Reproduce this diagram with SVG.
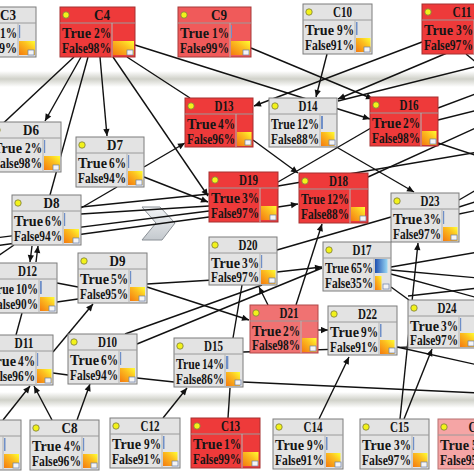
<svg xmlns="http://www.w3.org/2000/svg" width="474" height="474" viewBox="0 0 474 474">
<style>
.bx{stroke:#7c7c7c;stroke-width:1}
.gy{fill:#e3e3e3}
.rd{fill:#ee3a3a;stroke:#a63030}
.r2{fill:#f05a5a;stroke:#a63a3a}
.pk{fill:#f07272;stroke:#b04848}
.lp{fill:#f5a5a5;stroke:#b87070}
.hl{stroke:#9a9a9a;stroke-width:1}
.vl{stroke:#b4b4b4;stroke-width:1}
.dot{fill:#f2f21a;stroke:#7a7a40;stroke-width:0.8}
text{font-family:"Liberation Serif","Times New Roman",serif;font-weight:bold;font-size:14px;fill:#151515}
.tt{text-anchor:middle}
.tb{fill:#6f8fc8}
.fb{fill:url(#og)}
.ic{fill:#f4f4f4;stroke:#6a7fa8;stroke-width:0.7}
.c{stroke:#111;stroke-width:1.4;fill:none}
.a{marker-end:url(#ah)}
</style>
<defs>
<linearGradient id="og" x1="0" y1="1" x2="1" y2="0"><stop offset="0" stop-color="#f47a10"/><stop offset="0.6" stop-color="#fcc020"/><stop offset="1" stop-color="#ffff30"/></linearGradient>
<linearGradient id="bg" x1="0" y1="0" x2="1" y2="0"><stop offset="0" stop-color="#1e4fb0"/><stop offset="1" stop-color="#9ad8f5"/></linearGradient>
<linearGradient id="band" x1="0" y1="0" x2="0" y2="1"><stop offset="0" stop-color="#ffffff"/><stop offset="0.5" stop-color="#d0d1c9"/><stop offset="1" stop-color="#ffffff"/></linearGradient>
<linearGradient id="chev" x1="0" y1="0" x2="0" y2="1"><stop offset="0" stop-color="#f2f4f6"/><stop offset="1" stop-color="#c4c9ce"/></linearGradient>
<marker id="ah" viewBox="0 0 10 10" refX="10" refY="5" markerWidth="9" markerHeight="7" markerUnits="userSpaceOnUse" orient="auto"><path d="M0,0.5 L10,5 L0,9.5 z" fill="#111"/></marker>
</defs>
<rect width="474" height="474" fill="#ffffff"/>
<rect x="0" y="71" width="474" height="16" fill="url(#band)"/>
<rect x="0" y="392" width="474" height="16" fill="url(#band)"/>
<polygon points="142,207 160,207 175,223 162,240 142,240 156,223" fill="url(#chev)" stroke="#8a9096" stroke-width="1"/>
<g id="connectors">
<line class="c" x1="74" y1="57" x2="-4" y2="130"/>
<line class="c a" x1="81" y1="57" x2="45" y2="121"/>
<line class="c" x1="88" y1="57" x2="50" y2="195"/>
<line class="c a" x1="100" y1="57" x2="107" y2="136"/>
<line class="c a" x1="113" y1="57" x2="208" y2="196"/>
<line class="c" x1="127" y1="57" x2="190" y2="98"/>
<line class="c a" x1="135" y1="45" x2="370" y2="119"/>
<line class="c a" x1="251" y1="48" x2="373" y2="99"/>
<line class="c a" x1="327" y1="54" x2="316" y2="97"/>
<line class="c a" x1="422" y1="42" x2="254" y2="106"/>
<line class="c a" x1="447" y1="53" x2="338" y2="99"/>
<line class="c" x1="478" y1="66" x2="338" y2="101"/>
<line class="c" x1="466" y1="54" x2="478" y2="64"/>
<line class="c" x1="478" y1="93" x2="438" y2="108"/>
<line class="c" x1="117" y1="187" x2="81" y2="208"/>
<line class="c a" x1="144" y1="167" x2="185" y2="143"/>
<line class="c a" x1="144" y1="177" x2="208" y2="202"/>
<line class="c" x1="81" y1="207" x2="209" y2="194"/>
<line class="c" x1="81" y1="214" x2="209" y2="206"/>
<line class="c" x1="-5" y1="238" x2="209" y2="211"/>
<line class="c" x1="-5" y1="246" x2="209" y2="217"/>
<line class="c" x1="-5" y1="258" x2="14" y2="245"/>
<line class="c a" x1="36" y1="262" x2="38" y2="246"/>
<line class="c a" x1="32" y1="246" x2="30" y2="262"/>
<line class="c a" x1="253" y1="140" x2="298" y2="173"/>
<line class="c a" x1="333" y1="145" x2="414" y2="192"/>
<line class="c" x1="278" y1="182" x2="371" y2="128"/>
<line class="c" x1="278" y1="186" x2="478" y2="152"/>
<line class="c a" x1="278" y1="207" x2="298" y2="204"/>
<line class="c" x1="368" y1="177" x2="478" y2="127"/>
<line class="c" x1="438" y1="120" x2="478" y2="110"/>
<line class="c" x1="438" y1="143" x2="478" y2="156"/>
<line class="c" x1="391" y1="217" x2="277" y2="250"/>
<line class="c" x1="459" y1="200" x2="478" y2="189"/>
<line class="c" x1="459" y1="207" x2="478" y2="201"/>
<line class="c" x1="459" y1="214" x2="478" y2="210"/>
<line class="c a" x1="296" y1="305" x2="322" y2="224"/>
<line class="c a" x1="277" y1="272" x2="322" y2="267"/>
<line class="c" x1="391" y1="267" x2="478" y2="252"/>
<line class="c" x1="391" y1="270" x2="478" y2="278"/>
<line class="c" x1="391" y1="274" x2="478" y2="298"/>
<line class="c" x1="391" y1="287" x2="409" y2="300"/>
<line class="c" x1="408" y1="296" x2="478" y2="288"/>
<line class="c" x1="397" y1="347" x2="478" y2="365"/>
<line class="c" x1="243" y1="352" x2="478" y2="345"/>
<line class="c a" x1="318" y1="330" x2="328" y2="330"/>
<line class="c a" x1="268" y1="305" x2="259" y2="287"/>
<line class="c a" x1="147" y1="287" x2="249" y2="320"/>
<line class="c" x1="147" y1="284" x2="213" y2="280"/>
<line class="c" x1="57" y1="283" x2="78" y2="287"/>
<line class="c" x1="57" y1="302" x2="78" y2="299"/>
<line class="c" x1="137" y1="344" x2="322" y2="268"/>
<line class="c" x1="125" y1="334" x2="262" y2="285"/>
<line class="c a" x1="53" y1="352" x2="93" y2="304"/>
<line class="c" x1="53" y1="373" x2="68" y2="375"/>
<line class="c" x1="22" y1="313" x2="16" y2="335"/>
<line class="c" x1="137" y1="378" x2="174" y2="382"/>
<line class="c a" x1="3" y1="420" x2="30" y2="386"/>
<line class="c a" x1="52" y1="420" x2="34" y2="386"/>
<line class="c a" x1="77" y1="420" x2="90" y2="384"/>
<line class="c a" x1="163" y1="418" x2="187" y2="388"/>
<line class="c" x1="228" y1="418" x2="230" y2="388"/>
<line class="c" x1="243" y1="382" x2="478" y2="393"/>
<line class="c a" x1="319" y1="419" x2="349" y2="357"/>
<line class="c a" x1="400" y1="419" x2="418" y2="243"/>
<line class="c a" x1="404" y1="419" x2="432" y2="349"/>
<line class="c" x1="233" y1="338" x2="242" y2="285"/>
</g>

<g id="C3" transform="translate(-36,7)"><rect class="bx gy" width="72" height="50"/><line class="hl" x1="0" y1="16" x2="72" y2="16"/><line class="vl" x1="54" y1="16" x2="54" y2="50"/><text class="tt" x="44" y="13" textLength="16" lengthAdjust="spacingAndGlyphs">C3</text><text x="2" y="31" textLength="29" lengthAdjust="spacingAndGlyphs">True</text><text x="36" y="31" textLength="17" lengthAdjust="spacingAndGlyphs">1%</text><text x="2" y="46" textLength="51" lengthAdjust="spacingAndGlyphs">False99%</text><rect class="tb" x="55" y="18" width="1.2" height="13"/><rect class="fb" x="55" y="34" width="16" height="14"/><rect class="ic" x="64" y="43" width="6" height="5"/></g>

<g id="C4" transform="translate(60,7)"><rect class="bx rd" width="75" height="50"/><line class="hl" x1="0" y1="16" x2="75" y2="16"/><line class="vl" x1="52" y1="16" x2="52" y2="50"/><circle class="dot" cx="6" cy="8" r="3.2"/><text class="tt" x="42" y="13" textLength="16" lengthAdjust="spacingAndGlyphs">C4</text><text x="2" y="31" textLength="29" lengthAdjust="spacingAndGlyphs">True</text><text x="34" y="31" textLength="17" lengthAdjust="spacingAndGlyphs">2%</text><text x="2" y="46" textLength="49" lengthAdjust="spacingAndGlyphs">False98%</text><rect class="fb" x="53" y="34" width="21" height="14"/><rect class="ic" x="67" y="43" width="6" height="5"/></g>

<g id="C9" transform="translate(178,7)"><rect class="bx r2" width="73" height="50"/><line class="hl" x1="0" y1="16" x2="73" y2="16"/><line class="vl" x1="52" y1="16" x2="52" y2="50"/><circle class="dot" cx="6" cy="8" r="3.2"/><text class="tt" x="41" y="13" textLength="16" lengthAdjust="spacingAndGlyphs">C9</text><text x="2" y="31" textLength="29" lengthAdjust="spacingAndGlyphs">True</text><text x="34" y="31" textLength="17" lengthAdjust="spacingAndGlyphs">1%</text><text x="2" y="46" textLength="49" lengthAdjust="spacingAndGlyphs">False99%</text><rect class="tb" x="53" y="18" width="1" height="13"/><rect class="fb" x="53" y="34" width="19" height="14"/><rect class="ic" x="65" y="43" width="6" height="5"/></g>

<g id="C10" transform="translate(303,4)"><rect class="bx gy" width="69" height="50"/><line class="hl" x1="0" y1="16" x2="69" y2="16"/><line class="vl" x1="52" y1="16" x2="52" y2="50"/><circle class="dot" cx="6" cy="8" r="3.2"/><text class="tt" x="39.5" y="13" textLength="19" lengthAdjust="spacingAndGlyphs">C10</text><text x="2" y="31" textLength="29" lengthAdjust="spacingAndGlyphs">True</text><text x="34" y="31" textLength="17" lengthAdjust="spacingAndGlyphs">9%</text><text x="2" y="46" textLength="49" lengthAdjust="spacingAndGlyphs">False91%</text><rect class="tb" x="53" y="18" width="1.5" height="13"/><rect class="fb" x="53" y="34" width="14.5" height="14"/><rect class="ic" x="61" y="43" width="6" height="5"/></g>

<g id="C11" transform="translate(422,4)"><rect class="bx rd" width="70" height="50"/><line class="hl" x1="0" y1="16" x2="70" y2="16"/><line class="vl" x1="52" y1="16" x2="52" y2="50"/><circle class="dot" cx="6" cy="8" r="3.2"/><text class="tt" x="40" y="13" textLength="19" lengthAdjust="spacingAndGlyphs">C11</text><text x="2" y="31" textLength="29" lengthAdjust="spacingAndGlyphs">True</text><text x="34" y="31" textLength="17" lengthAdjust="spacingAndGlyphs">3%</text><text x="2" y="46" textLength="49" lengthAdjust="spacingAndGlyphs">False97%</text><rect class="fb" x="53" y="34" width="15.5" height="14"/><rect class="ic" x="62" y="43" width="6" height="5"/></g>

<g id="D6" transform="translate(-9,122)"><rect class="bx gy" width="70" height="50"/><line class="hl" x1="0" y1="16" x2="70" y2="16"/><line class="vl" x1="52" y1="16" x2="52" y2="50"/><circle class="dot" cx="6" cy="8" r="3.2"/><text class="tt" x="40" y="13" textLength="16" lengthAdjust="spacingAndGlyphs">D6</text><text x="2" y="31" textLength="29" lengthAdjust="spacingAndGlyphs">True</text><text x="34" y="31" textLength="17" lengthAdjust="spacingAndGlyphs">2%</text><text x="2" y="46" textLength="49" lengthAdjust="spacingAndGlyphs">False98%</text><rect class="tb" x="53" y="18" width="1.2" height="13"/><rect class="fb" x="53" y="34" width="16" height="14"/><rect class="ic" x="62" y="43" width="6" height="5"/></g>

<g id="D7" transform="translate(76,137)"><rect class="bx gy" width="68" height="50"/><line class="hl" x1="0" y1="16" x2="68" y2="16"/><line class="vl" x1="51" y1="16" x2="51" y2="50"/><circle class="dot" cx="6" cy="8" r="3.2"/><text class="tt" x="39" y="13" textLength="16" lengthAdjust="spacingAndGlyphs">D7</text><text x="2" y="31" textLength="29" lengthAdjust="spacingAndGlyphs">True</text><text x="33" y="31" textLength="17" lengthAdjust="spacingAndGlyphs">6%</text><text x="2" y="46" textLength="48" lengthAdjust="spacingAndGlyphs">False94%</text><rect class="tb" x="52" y="18" width="1.2" height="13"/><rect class="fb" x="52" y="34" width="14.5" height="14"/><rect class="ic" x="60" y="43" width="6" height="5"/></g>

<g id="D8" transform="translate(12,195)"><rect class="bx gy" width="69" height="50"/><line class="hl" x1="0" y1="16" x2="69" y2="16"/><line class="vl" x1="51" y1="16" x2="51" y2="50"/><circle class="dot" cx="6" cy="8" r="3.2"/><text class="tt" x="39.5" y="13" textLength="16" lengthAdjust="spacingAndGlyphs">D8</text><text x="2" y="31" textLength="29" lengthAdjust="spacingAndGlyphs">True</text><text x="33" y="31" textLength="17" lengthAdjust="spacingAndGlyphs">6%</text><text x="2" y="46" textLength="48" lengthAdjust="spacingAndGlyphs">False94%</text><rect class="tb" x="52" y="18" width="1.2" height="13"/><rect class="fb" x="52" y="34" width="15" height="14"/><rect class="ic" x="61" y="43" width="6" height="5"/></g>

<g id="D13" transform="translate(185,98)"><rect class="bx rd" width="68" height="49"/><line class="hl" x1="0" y1="16" x2="68" y2="16"/><line class="vl" x1="51" y1="16" x2="51" y2="49"/><circle class="dot" cx="6" cy="8" r="3.2"/><text class="tt" x="39" y="13" textLength="19" lengthAdjust="spacingAndGlyphs">D13</text><text x="2" y="31" textLength="29" lengthAdjust="spacingAndGlyphs">True</text><text x="33" y="31" textLength="17" lengthAdjust="spacingAndGlyphs">4%</text><text x="2" y="46" textLength="48" lengthAdjust="spacingAndGlyphs">False96%</text><rect class="fb" x="52" y="34" width="14.5" height="14"/><rect class="ic" x="60" y="42" width="6" height="5"/></g>

<g id="D14" transform="translate(269,98)"><rect class="bx gy" width="68" height="49"/><line class="hl" x1="0" y1="16" x2="68" y2="16"/><line class="vl" x1="51" y1="16" x2="51" y2="49"/><circle class="dot" cx="6" cy="8" r="3.2"/><text class="tt" x="39" y="13" textLength="19" lengthAdjust="spacingAndGlyphs">D14</text><text x="2" y="31" textLength="24" lengthAdjust="spacingAndGlyphs">True</text><text x="28" y="31" textLength="22" lengthAdjust="spacingAndGlyphs">12%</text><text x="2" y="46" textLength="48" lengthAdjust="spacingAndGlyphs">False88%</text><rect class="tb" x="52" y="18" width="2" height="13"/><rect class="fb" x="52" y="34" width="13.5" height="14"/><rect class="ic" x="60" y="42" width="6" height="5"/></g>

<g id="D16" transform="translate(370,97)"><rect class="bx rd" width="68" height="49"/><line class="hl" x1="0" y1="16" x2="68" y2="16"/><line class="vl" x1="51" y1="16" x2="51" y2="49"/><circle class="dot" cx="6" cy="8" r="3.2"/><text class="tt" x="39" y="13" textLength="19" lengthAdjust="spacingAndGlyphs">D16</text><text x="2" y="31" textLength="29" lengthAdjust="spacingAndGlyphs">True</text><text x="33" y="31" textLength="17" lengthAdjust="spacingAndGlyphs">2%</text><text x="2" y="46" textLength="48" lengthAdjust="spacingAndGlyphs">False98%</text><rect class="fb" x="52" y="34" width="14.5" height="14"/><rect class="ic" x="60" y="42" width="6" height="5"/></g>

<g id="D19" transform="translate(209,172)"><rect class="bx rd" width="69" height="50"/><line class="hl" x1="0" y1="16" x2="69" y2="16"/><line class="vl" x1="51" y1="16" x2="51" y2="50"/><circle class="dot" cx="6" cy="8" r="3.2"/><text class="tt" x="39.5" y="13" textLength="19" lengthAdjust="spacingAndGlyphs">D19</text><text x="2" y="31" textLength="29" lengthAdjust="spacingAndGlyphs">True</text><text x="33" y="31" textLength="17" lengthAdjust="spacingAndGlyphs">3%</text><text x="2" y="46" textLength="48" lengthAdjust="spacingAndGlyphs">False97%</text><rect class="fb" x="52" y="34" width="15.5" height="14"/><rect class="ic" x="61" y="43" width="6" height="5"/></g>

<g id="D18" transform="translate(299,173)"><rect class="bx rd" width="69" height="50"/><line class="hl" x1="0" y1="16" x2="69" y2="16"/><line class="vl" x1="51" y1="16" x2="51" y2="50"/><circle class="dot" cx="6" cy="8" r="3.2"/><text class="tt" x="39.5" y="13" textLength="19" lengthAdjust="spacingAndGlyphs">D18</text><text x="2" y="31" textLength="24" lengthAdjust="spacingAndGlyphs">True</text><text x="28" y="31" textLength="22" lengthAdjust="spacingAndGlyphs">12%</text><text x="2" y="46" textLength="48" lengthAdjust="spacingAndGlyphs">False88%</text><rect class="fb" x="52" y="34" width="14" height="14"/><rect class="ic" x="61" y="43" width="6" height="5"/></g>

<g id="D23" transform="translate(391,193)"><rect class="bx gy" width="68" height="49"/><line class="hl" x1="0" y1="16" x2="68" y2="16"/><line class="vl" x1="51" y1="16" x2="51" y2="49"/><circle class="dot" cx="6" cy="8" r="3.2"/><text class="tt" x="39" y="13" textLength="19" lengthAdjust="spacingAndGlyphs">D23</text><text x="2" y="31" textLength="29" lengthAdjust="spacingAndGlyphs">True</text><text x="33" y="31" textLength="17" lengthAdjust="spacingAndGlyphs">3%</text><text x="2" y="46" textLength="48" lengthAdjust="spacingAndGlyphs">False97%</text><rect class="tb" x="52" y="18" width="1.2" height="13"/><rect class="fb" x="52" y="34" width="14.5" height="14"/><rect class="ic" x="60" y="42" width="6" height="5"/></g>

<g id="D20" transform="translate(209,237)"><rect class="bx gy" width="68" height="48"/><line class="hl" x1="0" y1="16" x2="68" y2="16"/><line class="vl" x1="51" y1="16" x2="51" y2="48"/><circle class="dot" cx="6" cy="8" r="3.2"/><text class="tt" x="39" y="13" textLength="19" lengthAdjust="spacingAndGlyphs">D20</text><text x="2" y="31" textLength="29" lengthAdjust="spacingAndGlyphs">True</text><text x="33" y="31" textLength="17" lengthAdjust="spacingAndGlyphs">3%</text><text x="2" y="45" textLength="48" lengthAdjust="spacingAndGlyphs">False97%</text><rect class="tb" x="52" y="18" width="1.2" height="13"/><rect class="fb" x="52" y="33" width="14.5" height="14"/><rect class="ic" x="60" y="41" width="6" height="5"/></g>

<g id="D17" transform="translate(323,242)"><rect class="bx gy" width="68" height="49"/><line class="hl" x1="0" y1="16" x2="68" y2="16"/><line class="vl" x1="51" y1="16" x2="51" y2="49"/><circle class="dot" cx="6" cy="8" r="3.2"/><text class="tt" x="39" y="13" textLength="19" lengthAdjust="spacingAndGlyphs">D17</text><text x="2" y="31" textLength="24" lengthAdjust="spacingAndGlyphs">True</text><text x="28" y="31" textLength="22" lengthAdjust="spacingAndGlyphs">65%</text><text x="2" y="46" textLength="48" lengthAdjust="spacingAndGlyphs">False35%</text><rect x="52" y="17" width="12.5" height="14" fill="url(#bg)"/><rect class="fb" x="52" y="34" width="6.5" height="14"/><rect class="ic" x="60" y="42" width="6" height="5"/></g>

<g id="D9" transform="translate(78,253)"><rect class="bx gy" width="69" height="50"/><line class="hl" x1="0" y1="16" x2="69" y2="16"/><line class="vl" x1="51" y1="16" x2="51" y2="50"/><circle class="dot" cx="6" cy="8" r="3.2"/><text class="tt" x="39.5" y="13" textLength="16" lengthAdjust="spacingAndGlyphs">D9</text><text x="2" y="31" textLength="29" lengthAdjust="spacingAndGlyphs">True</text><text x="33" y="31" textLength="17" lengthAdjust="spacingAndGlyphs">5%</text><text x="2" y="46" textLength="48" lengthAdjust="spacingAndGlyphs">False95%</text><rect class="tb" x="52" y="18" width="1.2" height="13"/><rect class="fb" x="52" y="34" width="15" height="14"/><rect class="ic" x="61" y="43" width="6" height="5"/></g>

<g id="D12" transform="translate(-12,263)"><rect class="bx gy" width="69" height="50"/><line class="hl" x1="0" y1="16" x2="69" y2="16"/><line class="vl" x1="51" y1="16" x2="51" y2="50"/><circle class="dot" cx="6" cy="8" r="3.2"/><text class="tt" x="39.5" y="13" textLength="19" lengthAdjust="spacingAndGlyphs">D12</text><text x="2" y="31" textLength="24" lengthAdjust="spacingAndGlyphs">True</text><text x="28" y="31" textLength="22" lengthAdjust="spacingAndGlyphs">10%</text><text x="2" y="46" textLength="48" lengthAdjust="spacingAndGlyphs">False90%</text><rect class="tb" x="52" y="18" width="1.8" height="13"/><rect class="fb" x="52" y="34" width="14.5" height="14"/><rect class="ic" x="61" y="43" width="6" height="5"/></g>

<g id="D21" transform="translate(250,305)"><rect class="bx pk" width="68" height="48"/><line class="hl" x1="0" y1="16" x2="68" y2="16"/><line class="vl" x1="51" y1="16" x2="51" y2="48"/><circle class="dot" cx="6" cy="8" r="3.2"/><text class="tt" x="39" y="13" textLength="19" lengthAdjust="spacingAndGlyphs">D21</text><text x="2" y="31" textLength="29" lengthAdjust="spacingAndGlyphs">True</text><text x="33" y="31" textLength="17" lengthAdjust="spacingAndGlyphs">2%</text><text x="2" y="45" textLength="48" lengthAdjust="spacingAndGlyphs">False98%</text><rect class="fb" x="52" y="33" width="14.5" height="14"/><rect class="ic" x="60" y="41" width="6" height="5"/></g>

<g id="D22" transform="translate(328,306)"><rect class="bx gy" width="69" height="49"/><line class="hl" x1="0" y1="16" x2="69" y2="16"/><line class="vl" x1="51" y1="16" x2="51" y2="49"/><circle class="dot" cx="6" cy="8" r="3.2"/><text class="tt" x="39.5" y="13" textLength="19" lengthAdjust="spacingAndGlyphs">D22</text><text x="2" y="31" textLength="29" lengthAdjust="spacingAndGlyphs">True</text><text x="33" y="31" textLength="17" lengthAdjust="spacingAndGlyphs">9%</text><text x="2" y="46" textLength="48" lengthAdjust="spacingAndGlyphs">False91%</text><rect class="tb" x="52" y="18" width="1.5" height="13"/><rect class="fb" x="52" y="34" width="14.5" height="14"/><rect class="ic" x="61" y="42" width="6" height="5"/></g>

<g id="D24" transform="translate(408,300)"><rect class="bx gy" width="68" height="48"/><line class="hl" x1="0" y1="16" x2="68" y2="16"/><line class="vl" x1="51" y1="16" x2="51" y2="48"/><circle class="dot" cx="6" cy="8" r="3.2"/><text class="tt" x="39" y="13" textLength="19" lengthAdjust="spacingAndGlyphs">D24</text><text x="2" y="31" textLength="29" lengthAdjust="spacingAndGlyphs">True</text><text x="33" y="31" textLength="17" lengthAdjust="spacingAndGlyphs">3%</text><text x="2" y="45" textLength="48" lengthAdjust="spacingAndGlyphs">False97%</text><rect class="tb" x="52" y="18" width="1.2" height="13"/><rect class="fb" x="52" y="33" width="14.5" height="14"/><rect class="ic" x="60" y="41" width="6" height="5"/></g>

<g id="D11" transform="translate(-15,335)"><rect class="bx gy" width="68" height="50"/><line class="hl" x1="0" y1="16" x2="68" y2="16"/><line class="vl" x1="51" y1="16" x2="51" y2="50"/><circle class="dot" cx="6" cy="8" r="3.2"/><text class="tt" x="39" y="13" textLength="19" lengthAdjust="spacingAndGlyphs">D11</text><text x="2" y="31" textLength="29" lengthAdjust="spacingAndGlyphs">True</text><text x="33" y="31" textLength="17" lengthAdjust="spacingAndGlyphs">4%</text><text x="2" y="46" textLength="48" lengthAdjust="spacingAndGlyphs">False96%</text><rect class="tb" x="52" y="18" width="1.2" height="13"/><rect class="fb" x="52" y="34" width="14.5" height="14"/><rect class="ic" x="60" y="43" width="6" height="5"/></g>

<g id="D10" transform="translate(68,334)"><rect class="bx gy" width="69" height="50"/><line class="hl" x1="0" y1="16" x2="69" y2="16"/><line class="vl" x1="51" y1="16" x2="51" y2="50"/><circle class="dot" cx="6" cy="8" r="3.2"/><text class="tt" x="39.5" y="13" textLength="19" lengthAdjust="spacingAndGlyphs">D10</text><text x="2" y="31" textLength="29" lengthAdjust="spacingAndGlyphs">True</text><text x="33" y="31" textLength="17" lengthAdjust="spacingAndGlyphs">6%</text><text x="2" y="46" textLength="48" lengthAdjust="spacingAndGlyphs">False94%</text><rect class="tb" x="52" y="18" width="1.2" height="13"/><rect class="fb" x="52" y="34" width="15" height="14"/><rect class="ic" x="61" y="43" width="6" height="5"/></g>

<g id="D15" transform="translate(174,338)"><rect class="bx gy" width="69" height="49"/><line class="hl" x1="0" y1="16" x2="69" y2="16"/><line class="vl" x1="51" y1="16" x2="51" y2="49"/><circle class="dot" cx="6" cy="8" r="3.2"/><text class="tt" x="39.5" y="13" textLength="19" lengthAdjust="spacingAndGlyphs">D15</text><text x="2" y="31" textLength="24" lengthAdjust="spacingAndGlyphs">True</text><text x="28" y="31" textLength="22" lengthAdjust="spacingAndGlyphs">14%</text><text x="2" y="46" textLength="48" lengthAdjust="spacingAndGlyphs">False86%</text><rect class="tb" x="52" y="18" width="2.3" height="13"/><rect class="fb" x="52" y="34" width="14" height="14"/><rect class="ic" x="61" y="42" width="6" height="5"/></g>

<g id="C7" transform="translate(-50,420)"><rect class="bx gy" width="71" height="50"/><line class="hl" x1="0" y1="16" x2="71" y2="16"/><line class="vl" x1="53" y1="16" x2="53" y2="50"/><rect class="tb" x="54" y="18" width="1.5" height="13"/><rect class="fb" x="54" y="34" width="15" height="14"/><rect class="ic" x="63" y="43" width="6" height="5"/></g>

<g id="C8" transform="translate(30,420)"><rect class="bx gy" width="69" height="50"/><line class="hl" x1="0" y1="16" x2="69" y2="16"/><line class="vl" x1="52" y1="16" x2="52" y2="50"/><circle class="dot" cx="6" cy="8" r="3.2"/><text class="tt" x="39.5" y="13" textLength="16" lengthAdjust="spacingAndGlyphs">C8</text><text x="2" y="31" textLength="29" lengthAdjust="spacingAndGlyphs">True</text><text x="34" y="31" textLength="17" lengthAdjust="spacingAndGlyphs">4%</text><text x="2" y="46" textLength="49" lengthAdjust="spacingAndGlyphs">False96%</text><rect class="tb" x="53" y="18" width="1.2" height="13"/><rect class="fb" x="53" y="34" width="14.5" height="14"/><rect class="ic" x="61" y="43" width="6" height="5"/></g>

<g id="C12" transform="translate(110,418)"><rect class="bx gy" width="70" height="50"/><line class="hl" x1="0" y1="16" x2="70" y2="16"/><line class="vl" x1="52" y1="16" x2="52" y2="50"/><circle class="dot" cx="6" cy="8" r="3.2"/><text class="tt" x="40" y="13" textLength="19" lengthAdjust="spacingAndGlyphs">C12</text><text x="2" y="31" textLength="29" lengthAdjust="spacingAndGlyphs">True</text><text x="34" y="31" textLength="17" lengthAdjust="spacingAndGlyphs">9%</text><text x="2" y="46" textLength="49" lengthAdjust="spacingAndGlyphs">False91%</text><rect class="tb" x="53" y="18" width="1.5" height="13"/><rect class="fb" x="53" y="34" width="14.5" height="14"/><rect class="ic" x="62" y="43" width="6" height="5"/></g>

<g id="C13" transform="translate(191,418)"><rect class="bx rd" width="69" height="50"/><line class="hl" x1="0" y1="16" x2="69" y2="16"/><line class="vl" x1="51" y1="16" x2="51" y2="50"/><circle class="dot" cx="6" cy="8" r="3.2"/><text class="tt" x="39.5" y="13" textLength="19" lengthAdjust="spacingAndGlyphs">C13</text><text x="2" y="31" textLength="29" lengthAdjust="spacingAndGlyphs">True</text><text x="33" y="31" textLength="17" lengthAdjust="spacingAndGlyphs">1%</text><text x="2" y="46" textLength="48" lengthAdjust="spacingAndGlyphs">False99%</text><rect class="fb" x="52" y="34" width="15.5" height="14"/><rect class="ic" x="61" y="43" width="6" height="5"/></g>

<g id="C14" transform="translate(273,419)"><rect class="bx gy" width="70" height="50"/><line class="hl" x1="0" y1="16" x2="70" y2="16"/><line class="vl" x1="52" y1="16" x2="52" y2="50"/><circle class="dot" cx="6" cy="8" r="3.2"/><text class="tt" x="40" y="13" textLength="19" lengthAdjust="spacingAndGlyphs">C14</text><text x="2" y="31" textLength="29" lengthAdjust="spacingAndGlyphs">True</text><text x="34" y="31" textLength="17" lengthAdjust="spacingAndGlyphs">9%</text><text x="2" y="46" textLength="49" lengthAdjust="spacingAndGlyphs">False91%</text><rect class="tb" x="53" y="18" width="1.5" height="13"/><rect class="fb" x="53" y="34" width="14.5" height="14"/><rect class="ic" x="62" y="43" width="6" height="5"/></g>

<g id="C15" transform="translate(360,419)"><rect class="bx gy" width="69" height="50"/><line class="hl" x1="0" y1="16" x2="69" y2="16"/><line class="vl" x1="52" y1="16" x2="52" y2="50"/><circle class="dot" cx="6" cy="8" r="3.2"/><text class="tt" x="39.5" y="13" textLength="19" lengthAdjust="spacingAndGlyphs">C15</text><text x="2" y="31" textLength="29" lengthAdjust="spacingAndGlyphs">True</text><text x="34" y="31" textLength="17" lengthAdjust="spacingAndGlyphs">3%</text><text x="2" y="46" textLength="49" lengthAdjust="spacingAndGlyphs">False97%</text><rect class="tb" x="53" y="18" width="1.2" height="13"/><rect class="fb" x="53" y="34" width="14.5" height="14"/><rect class="ic" x="61" y="43" width="6" height="5"/></g>

<g id="C16" transform="translate(438,419)"><rect class="bx lp" width="70" height="50"/><line class="hl" x1="0" y1="16" x2="70" y2="16"/><line class="vl" x1="52" y1="16" x2="52" y2="50"/><circle class="dot" cx="6" cy="8" r="3.2"/><text class="tt" x="40" y="13" textLength="19" lengthAdjust="spacingAndGlyphs">C16</text><text x="2" y="31" textLength="29" lengthAdjust="spacingAndGlyphs">True</text><text x="34" y="31" textLength="17" lengthAdjust="spacingAndGlyphs">5%</text><text x="2" y="46" textLength="49" lengthAdjust="spacingAndGlyphs">False95%</text><rect class="fb" x="53" y="34" width="15" height="14"/><rect class="ic" x="62" y="43" width="6" height="5"/></g>
</svg>
